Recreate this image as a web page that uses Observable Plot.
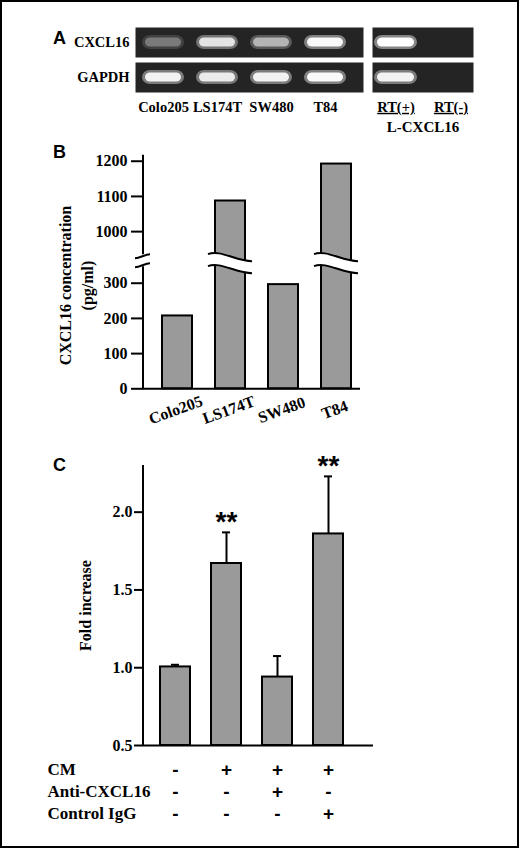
<!DOCTYPE html>
<html><head><meta charset="utf-8">
<script src="https://cdn.jsdelivr.net/npm/d3@7"></script>
<script src="https://cdn.jsdelivr.net/npm/@observablehq/plot@0.6"></script>
<style>
body{margin:0;background:#fff}
#fig{position:relative;width:520px;height:849px;overflow:hidden;background:#fff}
#border{position:absolute;left:0;top:0;width:515px;height:844px;border:2px solid #000}
.lbl{position:absolute;font-family:'Liberation Sans',Arial,sans-serif;font-weight:bold;font-size:18px;line-height:18px;color:#000}
.sub{position:absolute;font-family:'Liberation Serif','Times New Roman',serif;font-weight:bold;font-size:15px;line-height:18px;text-align:center;color:#000}
#gelR text{text-decoration:underline}
</style>
</head><body><div id="fig"><div id="border"></div></div>
<script>
// ---------- Panel A : RT-PCR gel ----------
const gelGenes = ["CXCL16", "GAPDH"];
const gelLanesCell = ["Colo205", "LS174T", "SW480", "T84"];
const gelLanesCtrl = ["RT(+)", "RT(-)"];
const bandCXCL16Cell = [0.3, 0.8, 0.55, 0.95];
const bandGAPDHCell = [0.9, 0.85, 0.9, 0.95];
const bandCXCL16Ctrl = [1.0, 0];
const bandGAPDHCtrl = [0.9, 0];
const ctrlCaption = "L-CXCL16";

// ---------- Panel B : CXCL16 concentration ----------
const cellLines = ["Colo205", "LS174T", "SW480", "T84"];
const concentration = [207, 1087, 296, 1192];
const yTicksB = [0, 100, 200, 300, 1000, 1100, 1200];
const yBreakB = [330, 940];   // values hidden by the axis break
const yMaxB = 1217;
const yLabelB = "CXCL16 concentration\n(pg/ml)";

// ---------- Panel C : fold increase ----------
const conditions = ["none", "CM", "CM+anti", "CM+IgG"];
const foldMean = [1.005, 1.67, 0.94, 1.86];
const foldErr = [0.014, 0.20, 0.135, 0.37];
const significance = ["", "**", "", "**"];
const yTicksC = [0.5, 1.0, 1.5, 2.0];
const yDomainC = [0.5, 2.3];
const yLabelC = "Fold increase";
const tableRows = ["CM", "Anti-CXCL16", "Control IgG"];
const rowCM = ["-", "+", "+", "+"];
const rowAnti = ["-", "-", "+", "-"];
const rowIgG = ["-", "-", "-", "+"];

const fig = document.getElementById("fig");
const serif = "'Liberation Serif','Times New Roman',serif";
const sans = "'Liberation Sans',Arial,sans-serif";
const baseStyle = (fs) => ({fontFamily: serif, fontWeight: "bold", fontSize: fs, background: "transparent", overflow: "visible", color: "#000"});
function place(svg, top, id) {
  svg.style.position = "absolute";
  svg.style.left = "0px";
  svg.style.top = top + "px";
  if (id) svg.id = id;
  fig.appendChild(svg);
}
function label(text, cls, left, top, width) {
  const d = document.createElement("div");
  d.className = cls; d.textContent = text;
  d.style.left = left + "px"; d.style.top = top + "px";
  if (width) d.style.width = width + "px";
  fig.appendChild(d);
}

function gel(lanes, cx, gapdh, left, right, range, showRows, id) {
  const data = [];
  lanes.forEach((l, i) => {
    data.push({gene: gelGenes[0], lane: l, v: cx[i]});
    data.push({gene: gelGenes[1], lane: l, v: gapdh[i]});
  });
  const svg = Plot.plot({
    width: 520, height: 120,
    marginTop: 27, marginBottom: 27, marginLeft: left, marginRight: 520 - right,
    facet: {data, y: "gene"},
    fy: {domain: gelGenes, axis: showRows ? "left" : null, label: null, tickSize: 0, tickPadding: 6, paddingInner: 0.14, paddingOuter: 0},
    x: {domain: lanes, range, paddingInner: 0, paddingOuter: 0, axis: "bottom", label: null, tickSize: 0, tickPadding: 9},
    style: baseStyle("14.5px"),
    marks: [
      Plot.frame({fill: "#242424", stroke: "none"}),
      Plot.cell(data, {x: "lane", fill: "white", fillOpacity: d => d.v * 0.45, insetLeft: 6, insetRight: 6, insetTop: 8, insetBottom: 8, rx: 8, ariaLabel: "halo"}),
      Plot.cell(data, {x: "lane", fill: "white", fillOpacity: "v", insetLeft: 9, insetRight: 9, insetTop: 10.5, insetBottom: 10.5, rx: 5, ariaLabel: "core"})
    ]
  });
  const defs = d3.select(svg).append("defs");
  [["h", 3], ["c", 1.6]].forEach(([k, s]) => {
    defs.append("filter").attr("id", id + k).attr("x", "-50%").attr("y", "-50%").attr("width", "200%").attr("height", "200%")
      .append("feGaussianBlur").attr("stdDeviation", s);
  });
  d3.select(svg).selectAll('g[aria-label="halo"]').attr("filter", `url(#${id}h)`);
  d3.select(svg).selectAll('g[aria-label="core"]').attr("filter", `url(#${id}c)`);
  place(svg, 0, id);
}
gel(gelLanesCell, bandCXCL16Cell, bandGAPDHCell, 135, 363, [136, 352], true, "gelL");
gel(gelLanesCtrl, bandCXCL16Ctrl, bandGAPDHCtrl, 372, 473, [367.5, 477.5], false, "gelR");
label(ctrlCaption, "sub", 373, 118, 100);

// ---------- Panel B ----------
// broken axis: values above the break are shifted down so the gap takes a fixed size
const gapB = 56.6;
const brk = v => v <= yBreakB[0] ? v : v >= yBreakB[1] ? v - yBreakB[1] + yBreakB[0] + gapB : yBreakB[0] + gapB / 2;
const unbrk = d => d <= yBreakB[0] ? d : Math.round(d - yBreakB[0] - gapB + yBreakB[1]);
const dataB = cellLines.map((c, i) => ({cell: c, value: concentration[i]}));
function breakMarkB(index, scales, values, dims) {
  const {x, y} = scales;
  const bw = typeof x.bandwidth === "function" ? x.bandwidth() : x.bandwidth;
  const mid = (y(brk(yBreakB[0])) + y(brk(yBreakB[1]))) / 2;
  const ax = dims.marginLeft;
  const g = d3.create("svg:g").attr("fill", "none").attr("stroke", "black").attr("stroke-width", 2);
  g.append("line").attr("x1", ax).attr("x2", ax).attr("y1", y(brk(yMaxB))).attr("y2", mid - 8);
  g.append("line").attr("x1", ax).attr("x2", ax).attr("y1", mid + 4).attr("y2", y(0) + 1);
  for (const o of [-6, 3]) {
    g.append("path").attr("d", `M${ax - 8},${mid + o + 2} C${ax - 3},${mid + o + 2} ${ax + 2},${mid + o - 2} ${ax + 7},${mid + o - 2}`);
  }
  const wave = (cx, off) => `M${cx - 22},${mid + off - 8} C${cx - 10},${mid + off - 13} ${cx + 6},${mid + off - 1} ${cx + 22},${mid + off - 1}`;
  const waveRev = (cx, off) => `L${cx + 22},${mid + off - 1} C${cx + 6},${mid + off - 1} ${cx - 10},${mid + off - 13} ${cx - 22},${mid + off - 8} Z`;
  for (const d of dataB) {
    if (d.value <= yBreakB[1]) continue;
    const cx = x(d.cell) + bw / 2;
    g.append("path").attr("d", wave(cx, 0) + " " + waveRev(cx, 12)).attr("fill", "white").attr("stroke", "none");
    g.append("path").attr("d", wave(cx, 0));
    g.append("path").attr("d", wave(cx, 12));
  }
  return g.node();
}
const svgB = Plot.plot({
  width: 520, height: 300,
  marginTop: 14.75, marginBottom: 51.7, marginLeft: 143, marginRight: 160,
  x: {domain: cellLines, range: [161, 351], paddingInner: 0.4375, paddingOuter: 0, axis: null},
  y: {domain: [0, brk(yMaxB)], axis: null},
  style: baseStyle("16px"),
  marks: [
    Plot.barY(dataB, {x: "cell", y: d => brk(d.value), fill: "#9a9a9a", stroke: "black", strokeWidth: 2}),
    Plot.ruleY([0], {strokeWidth: 2}),
    Plot.axisY(yTicksB.map(brk), {tickSize: 12, tickPadding: 4, strokeWidth: 2, label: null, fontSize: 16, tickFormat: d => String(unbrk(d))}),
    Plot.text(dataB, {x: "cell", text: "cell", frameAnchor: "bottom", dy: 26, rotate: -20, fontSize: 16}),
    Plot.text([yLabelB], {frameAnchor: "left", textAnchor: "middle", dx: -69, dy: 13.5, rotate: -90, lineHeight: 1.375, fontSize: 16}),
    breakMarkB
  ]
});
place(svgB, 140);

// ---------- Panel C ----------
const dataC = conditions.map((c, i) => ({cond: c, mean: foldMean[i], err: foldErr[i], sig: significance[i]}));
function axisLineC(index, scales, values, dims) {
  return d3.create("svg:line").attr("x1", dims.marginLeft).attr("x2", dims.marginLeft)
    .attr("y1", dims.marginTop).attr("y2", dims.height - dims.marginBottom + 1)
    .attr("stroke", "black").attr("stroke-width", 2).node();
}
const svgC = Plot.plot({
  width: 520, height: 300,
  marginTop: 15, marginBottom: 5, marginLeft: 143, marginRight: 147,
  x: {domain: conditions, range: [158.7, 344], paddingInner: 0.42, paddingOuter: 0, axis: null},
  y: {domain: yDomainC, axis: null},
  style: baseStyle("16px"),
  marks: [
    Plot.ruleX(dataC, {x: "cond", y1: "mean", y2: d => d.mean + d.err, strokeWidth: 2}),
    Plot.tickY(dataC, {x: "cond", y: d => d.mean + d.err, insetLeft: 11, insetRight: 11, strokeWidth: 2}),
    Plot.barY(dataC, {x: "cond", y1: yDomainC[0], y2: "mean", fill: "#9a9a9a", stroke: "black", strokeWidth: 2}),
    Plot.ruleY([yDomainC[0]], {strokeWidth: 2}),
    axisLineC,
    Plot.axisY(yTicksC, {tickSize: 9, tickPadding: 2, strokeWidth: 2, label: null, fontSize: 16, tickFormat: d3.format(".1f")}),
    Plot.text(dataC.filter(d => d.sig), {x: "cond", y: d => d.mean + d.err, text: "sig", dy: -10, fontSize: 28, fontFamily: sans, fontWeight: "bold"}),
    Plot.text([yLabelC], {frameAnchor: "left", textAnchor: "middle", dx: -58, rotate: -90, fontSize: 16})
  ]
});
place(svgC, 450);

// ---------- Treatment table ----------
const tableData = [];
[rowCM, rowAnti, rowIgG].forEach((row, j) => conditions.forEach((c, i) => tableData.push({row: tableRows[j], cond: c, sym: row[i]})));
const svgT = Plot.plot({
  width: 520, height: 75,
  marginTop: 3, marginBottom: 6, marginLeft: 47, marginRight: 147,
  x: {type: "point", domain: conditions, range: [173.7, 329], padding: 0, axis: null},
  y: {type: "point", domain: tableRows, range: [14, 58], padding: 0, axis: null},
  style: baseStyle("17px"),
  marks: [
    Plot.text(tableRows, {y: d => d, frameAnchor: "left", textAnchor: "start", fontSize: 17}),
    Plot.text(tableData, {x: "cond", y: "row", text: "sym", fontSize: 19, fontFamily: sans, fontWeight: "bold"})
  ]
});
place(svgT, 755);

// panel letters
label("A", "lbl", 53, 28.7);
label("B", "lbl", 53, 142.7);
label("C", "lbl", 53, 455.7);
</script>
</body></html>
